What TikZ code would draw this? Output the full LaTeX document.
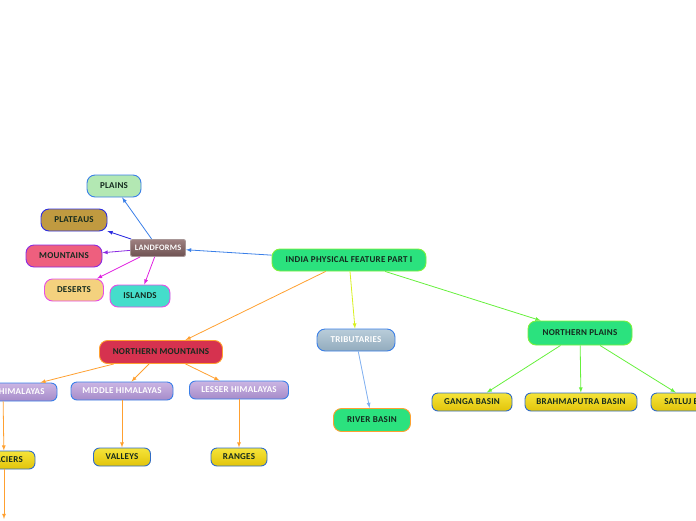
\documentclass[tikz,border=0pt]{standalone}
\usepackage{fontspec}
\setmainfont{Carlito}
\newfontfamily\mapfont[LetterSpace=3]{Carlito}
\usepackage{tikz}
\usepackage{xcolor}
\usetikzlibrary{arrows,shapes.misc}
\definecolor{rootgreen}{HTML}{2BE27E}
\definecolor{limeborder}{HTML}{7FF03C}
\definecolor{blueborder}{HTML}{3A7FE8}
\definecolor{textdark}{HTML}{142A1E}
\definecolor{plainsfill}{HTML}{B3E8B3}
\definecolor{plateausfill}{HTML}{C09A40}
\definecolor{plateausline}{HTML}{2C2CE0}
\definecolor{mountainsfill}{HTML}{EE5F7E}
\definecolor{mountainsline}{HTML}{8A2BE2}
\definecolor{desertsfill}{HTML}{F4D17E}
\definecolor{islandsfill}{HTML}{45DDCB}
\definecolor{magentaline}{HTML}{E020E0}
\definecolor{nmred}{HTML}{D6324F}
\definecolor{orangeline}{HTML}{FFA030}
\definecolor{yellowgreen}{HTML}{D8F020}
\definecolor{greenline}{HTML}{66F03C}
\definecolor{paleblue}{HTML}{80B0F0}
\definecolor{himaltop}{HTML}{CBB5E3}
\definecolor{himalbottom}{HTML}{A68BC9}
\definecolor{goldtop}{HTML}{F5E43A}
\definecolor{goldbottom}{HTML}{E2C40A}
\definecolor{tribtop}{HTML}{B9CDDA}
\definecolor{tribbottom}{HTML}{92ABBD}
\definecolor{landtop}{HTML}{9E8080}
\definecolor{landbottom}{HTML}{6E5252}
\tikzset{
  bubble/.style={draw, line width=0.9pt, rounded corners=8pt, minimum height=22pt,
    inner sep=2pt, font=\mapfont\bfseries\fontsize{9}{10}\selectfont, text=textdark},
  slim/.style={bubble, rounded corners=6pt, minimum height=18pt},
  himal/.style={slim, draw=blueborder, top color=himaltop, bottom color=himalbottom, text=white},
  yellowbox/.style={slim, draw=blueborder!85!black, top color=goldtop, bottom color=goldbottom},
  link/.style={-latex, line width=0.8pt}
}
\begin{document}
\begin{tikzpicture}[x=1pt,y=-1pt]
\useasboundingbox (0,0) rectangle (696,520);
\clip (0,0) rectangle (696,520);
\node[bubble, fill=rootgreen, draw=limeborder, minimum width=154pt] (root) at (349,260) {INDIA PHYSICAL FEATURE PART I};
\node[bubble, rounded corners=2pt, minimum height=17pt, minimum width=55pt, inner xsep=1pt, draw=landbottom!60, top color=landtop, bottom color=landbottom, text=white, font=\mapfont\bfseries\fontsize{8.3}{9}\selectfont] (landforms) at (158,248) {LANDFORMS};
\node[bubble, fill=plainsfill, draw=blueborder, minimum width=54pt] (plains) at (114,186) {PLAINS};
\node[bubble, fill=plateausfill, draw=plateausline, minimum width=66pt] (plateaus) at (74,220) {PLATEAUS};
\node[bubble, fill=mountainsfill, draw=mountainsline, minimum width=76pt] (mountains) at (64,256) {MOUNTAINS};
\node[bubble, fill=desertsfill, draw=magentaline!80, minimum width=59pt] (deserts) at (74,290) {DESERTS};
\node[bubble, fill=islandsfill, draw=magentaline!80, minimum width=60pt] (islands) at (140,296) {ISLANDS};
\node[bubble, fill=nmred, draw=orangeline, minimum width=123pt, minimum height=23pt] (nmount) at (161,352) {NORTHERN MOUNTAINS};
\node[himal, minimum width=108pt] (greater) at (3,392) {GREATER HIMALAYAS};
\node[himal, minimum width=102pt] (middle) at (122,391) {MIDDLE HIMALAYAS};
\node[himal, minimum width=99pt] (lesser) at (239,390) {LESSER HIMALAYAS};
\node[yellowbox, minimum width=62pt] (glaciers) at (4,460) {GLACIERS};
\node[yellowbox, minimum width=57pt] (valleys) at (122,457) {VALLEYS};
\node[yellowbox, minimum width=56pt] (ranges) at (239,457) {RANGES};
\coordinate (below) at (4,519);
\node[bubble, draw=blueborder, top color=tribtop, bottom color=tribbottom, text=white, minimum width=78pt] (tribs) at (356,340) {TRIBUTARIES};
\node[bubble, fill=rootgreen, draw=orangeline, minimum width=77pt, minimum height=23pt] (river) at (372,420) {RIVER BASIN};
\node[bubble, fill=rootgreen, draw=limeborder, minimum width=104pt, minimum height=24pt] (nplains) at (580,333) {NORTHERN PLAINS};
\node[yellowbox, minimum width=80pt] (ganga) at (472,402) {GANGA BASIN};
\node[yellowbox, minimum width=112pt] (brahma) at (581,402) {BRAHMAPUTRA BASIN};
\node[yellowbox, minimum width=80pt] (satluj) at (691,402) {SATLUJ BASIN};
\draw[link, blueborder] (root) -- (landforms);
\draw[link, blueborder] (landforms) -- (plains);
\draw[link, plateausline] (landforms) -- (plateaus);
\draw[link, mountainsline] (landforms) -- (mountains);
\draw[link, magentaline] (landforms) -- (deserts);
\draw[link, magentaline] (landforms) -- (islands);
\draw[link, orangeline] (root) -- (nmount);
\draw[link, yellowgreen] (root) -- (tribs);
\draw[link, greenline] (root) -- (nplains);
\draw[link, orangeline] (nmount) -- (greater);
\draw[link, orangeline] (nmount) -- (middle);
\draw[link, orangeline] (nmount) -- (lesser);
\draw[link, orangeline] (greater) -- (glaciers);
\draw[link, orangeline] (middle) -- (valleys);
\draw[link, orangeline] (lesser) -- (ranges);
\draw[link, orangeline] (glaciers) -- (below);
\draw[link, paleblue] (tribs) -- (river);
\draw[link, greenline] (nplains) -- (ganga);
\draw[link, greenline] (nplains) -- (brahma);
\draw[link, greenline] (nplains) -- (satluj);
\end{tikzpicture}
\end{document}
